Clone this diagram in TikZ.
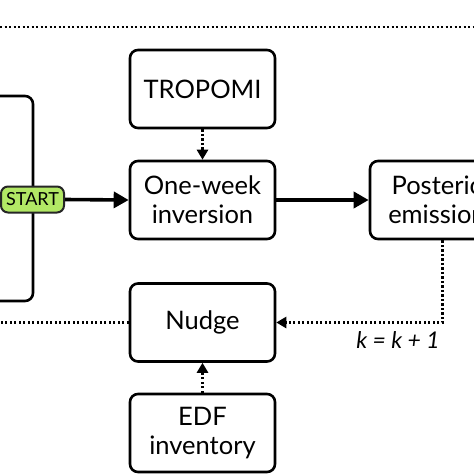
\documentclass[tikz,border=0pt]{standalone}
\usepackage{fontspec}
\setmainfont{Lato}
\usetikzlibrary{arrows.meta}
\definecolor{startgreen}{HTML}{B2E865}
\begin{document}
\begin{tikzpicture}[x=1pt,y=-1pt,
  box/.style={draw,line width=2.6pt,rounded corners=8pt,minimum width=145pt,minimum height=78pt,align=center,font=\fontsize{25.5}{29}\selectfont,inner sep=0pt},
  startbox/.style={draw=black!85,fill=startgreen,line width=2pt,rounded corners=7pt,minimum width=63pt,minimum height=26pt,inner sep=0pt,font=\fontsize{18}{20}\selectfont},
  solidarrow/.style={line width=3.6pt,-{Triangle[length=15pt,width=16pt]}},
  dotline/.style={line width=2.6pt,dash pattern=on 2.2pt off 2.3pt},
  dotarrow/.style={dotline,-{Triangle[length=10pt,width=11pt]}}
]
\useasboundingbox (0,0) rectangle (474,474);
\clip (0,0) rectangle (474,474);
\fill[white] (0,0) rectangle (474,474);
% top dotted line
\coordinate (topl) at (0,27);
\coordinate (topr) at (474,27);
\draw[dotline] (topl) -- (topr);
% left box
\draw[line width=2.6pt,rounded corners=8pt] (-40,96) rectangle (33,301);
% main boxes
\node[box] (tropomi) at (202.5,89) {TROPOMI};
\node[box] (oneweek) at (202.5,200) {One-week\\inversion};
\node[box] (post) at (442.5,200) {Posterior\\emissions};
\node[box] (nudge) at (202.5,322.5) {Nudge};
\node[box] (edf) at (202.5,433) {EDF\\inventory};
\node[startbox] (start) at (32.5,199.5) {START};
% connectors
\draw[solidarrow] (start.east) -- (oneweek.west);
\draw[solidarrow] (oneweek.east) -- (post.west);
\draw[dotarrow] (tropomi.south) -- (oneweek.north);
\draw[dotarrow] (edf.north) -- (nudge.south);
\draw[dotarrow] (post.south) |- (nudge.east);
\coordinate (leftend) at (0,322.5);
\draw[dotline] (nudge.west) -- (leftend);
\node[anchor=east,font=\itshape\fontsize{23}{25}\selectfont,inner sep=0pt] (kk) at (440,340) {k = k + 1};
\end{tikzpicture}
\end{document}
